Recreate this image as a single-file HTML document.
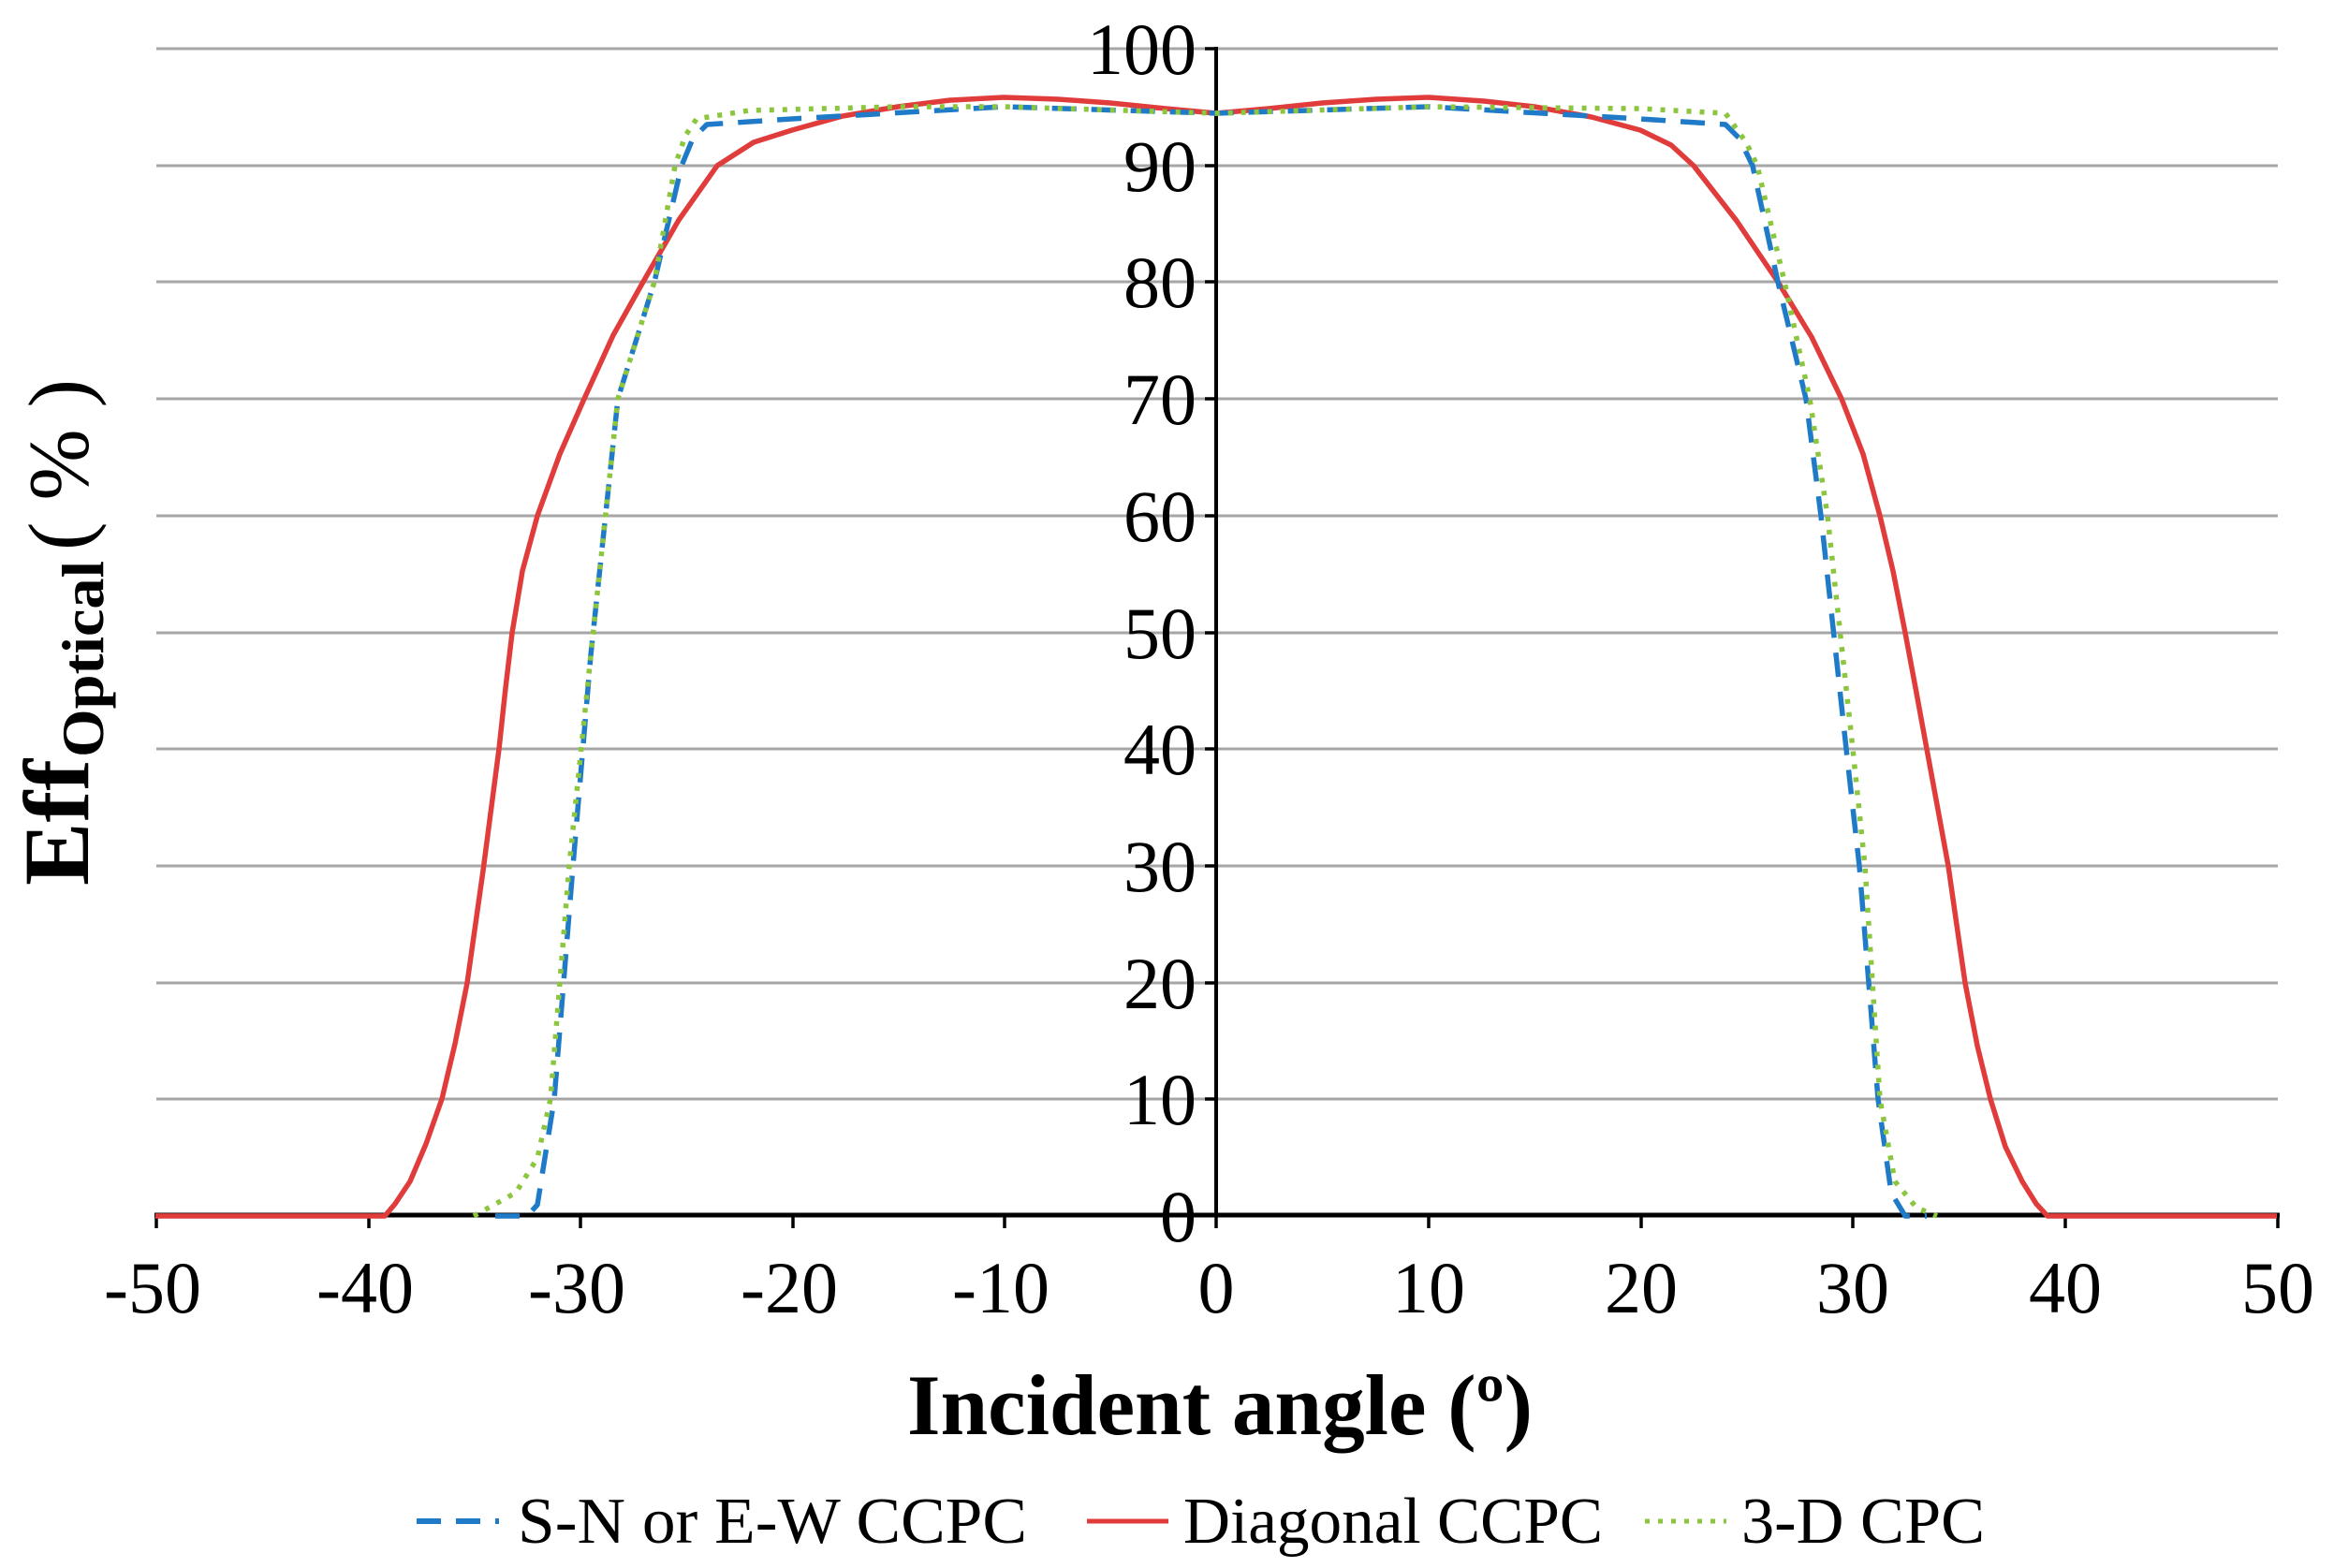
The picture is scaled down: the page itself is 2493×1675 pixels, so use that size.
<!DOCTYPE html>
<html><head><meta charset="utf-8"><style>html,body{margin:0;padding:0;background:#fff}svg{display:block}</style></head>
<body>
<svg width="2493" height="1675" viewBox="0 0 2493 1675" xmlns="http://www.w3.org/2000/svg" font-family="'Liberation Serif', serif">
<rect width="2493" height="1675" fill="#fff"/>
<g stroke="#a6a6a6" stroke-width="3">
<line x1="167" y1="52" x2="2433" y2="52"/>
<line x1="167" y1="177" x2="2433" y2="177"/>
<line x1="167" y1="301" x2="2433" y2="301"/>
<line x1="167" y1="426" x2="2433" y2="426"/>
<line x1="167" y1="551" x2="2433" y2="551"/>
<line x1="167" y1="676" x2="2433" y2="676"/>
<line x1="167" y1="800" x2="2433" y2="800"/>
<line x1="167" y1="925" x2="2433" y2="925"/>
<line x1="167" y1="1050" x2="2433" y2="1050"/>
<line x1="167" y1="1174" x2="2433" y2="1174"/>
</g>
<g stroke="#000" stroke-width="4">
<line x1="1299" y1="50" x2="1299" y2="1300"/>
<line x1="165" y1="1298" x2="2435" y2="1298" stroke-width="5"/>
<g stroke-width="3.5">
<line x1="1287" y1="52" x2="1299" y2="52"/><line x1="1287" y1="177" x2="1299" y2="177"/><line x1="1287" y1="301" x2="1299" y2="301"/><line x1="1287" y1="426" x2="1299" y2="426"/><line x1="1287" y1="551" x2="1299" y2="551"/><line x1="1287" y1="676" x2="1299" y2="676"/><line x1="1287" y1="800" x2="1299" y2="800"/><line x1="1287" y1="925" x2="1299" y2="925"/><line x1="1287" y1="1050" x2="1299" y2="1050"/><line x1="1287" y1="1174" x2="1299" y2="1174"/>
<line x1="167" y1="1298" x2="167" y2="1312"/><line x1="394" y1="1298" x2="394" y2="1312"/><line x1="620" y1="1298" x2="620" y2="1312"/><line x1="847" y1="1298" x2="847" y2="1312"/><line x1="1073" y1="1298" x2="1073" y2="1312"/><line x1="1299" y1="1298" x2="1299" y2="1312"/><line x1="1526" y1="1298" x2="1526" y2="1312"/><line x1="1753" y1="1298" x2="1753" y2="1312"/><line x1="1979" y1="1298" x2="1979" y2="1312"/><line x1="2206" y1="1298" x2="2206" y2="1312"/><line x1="2433" y1="1298" x2="2433" y2="1312"/>
</g></g>
<g font-size="78" text-anchor="end" fill="#000">
<text x="1278" y="79">100</text><text x="1278" y="204">90</text><text x="1278" y="328">80</text><text x="1278" y="453">70</text><text x="1278" y="578">60</text><text x="1278" y="703">50</text><text x="1278" y="827">40</text><text x="1278" y="952">30</text><text x="1278" y="1077">20</text><text x="1278" y="1201">10</text><text x="1278" y="1326">0</text>
</g>
<g font-size="78" text-anchor="middle" fill="#000">
<text x="163" y="1402">-50</text><text x="390" y="1402">-40</text><text x="616" y="1402">-30</text><text x="843" y="1402">-20</text><text x="1069" y="1402">-10</text><text x="1299" y="1402">0</text><text x="1526" y="1402">10</text><text x="1753" y="1402">20</text><text x="1979" y="1402">30</text><text x="2206" y="1402">40</text><text x="2433" y="1402">50</text>
</g>
<text x="969" y="1532" font-size="92" font-weight="bold" textLength="668" lengthAdjust="spacingAndGlyphs">Incident angle (º)</text>
<g transform="translate(94,946) rotate(-90)">
<text x="0" y="0" font-size="100" font-weight="bold" textLength="135" lengthAdjust="spacingAndGlyphs">Eff</text>
<text x="137" y="16" font-size="64" font-weight="bold" textLength="210" lengthAdjust="spacingAndGlyphs">Optical</text>
<text x="358" y="0" font-size="92" textLength="183" lengthAdjust="spacingAndGlyphs">( % )</text>
</g>
<g fill="none" stroke-linejoin="round" stroke-linecap="butt">
<polyline stroke="#e03c3c" stroke-width="5.5" points="166,1299 411,1299 422,1286 438,1262 455,1222 472,1174 486,1115 499,1050 516,930 533,800 540,735 547,676 558,610 574,551 598,485 624,426 655,358 687,301 725,235 766,177 805,152 846,139 900,124 959,114 1015,107 1072,104 1130,106 1186,110 1245,116 1299,121 1355,116 1412,110 1470,106 1526,104 1585,108 1639,114 1700,125 1752,139 1785,155 1809,177 1855,236 1899,301 1935,360 1967,426 1990,485 2008,551 2022,610 2035,676 2047,740 2058,800 2070,865 2081,925 2090,988 2099,1050 2112,1117 2126,1174 2142,1225 2160,1262 2175,1286 2187,1299 2432,1299"/>
<polyline stroke="#1f7ac8" stroke-width="5.5" stroke-dasharray="26,16" points="529,1299 563,1299 574,1287 592,1174 612,925 631,700 660,426 699,301 728,177 740,148 755,133 846,127 1072,114 1299,121 1526,114 1752,127 1843,133 1858,148 1872,177 1899,301 1929,426 1945,551 1972,800 1986,925 2006,1174 2020,1274 2035,1299 2058,1299"/>
<polyline stroke="#8cc63f" stroke-width="5.5" stroke-dasharray="5,9" points="506,1299 551,1274 574,1237 588,1174 608,925 631,700 660,426 699,301 721,177 732,145 744,127 800,118 959,114 1072,114 1299,121 1526,114 1752,116 1843,121 1865,152 1877,177 1906,301 1933,426 1952,551 1979,800 1992,925 2008,1174 2024,1262 2047,1290 2069,1299"/>
</g>
<g font-size="70" fill="#000">
<line x1="445" y1="1625" x2="533" y2="1625" stroke="#1f7ac8" stroke-width="6" stroke-dasharray="26,16"/>
<text x="553" y="1648" textLength="544" lengthAdjust="spacingAndGlyphs">S-N or E-W  CCPC</text>
<line x1="1161" y1="1625" x2="1248" y2="1625" stroke="#e03c3c" stroke-width="5"/>
<text x="1264" y="1648" textLength="448" lengthAdjust="spacingAndGlyphs">Diagonal CCPC</text>
<line x1="1757" y1="1625" x2="1844" y2="1625" stroke="#8cc63f" stroke-width="5" stroke-dasharray="5,9"/>
<text x="1860" y="1648" textLength="260" lengthAdjust="spacingAndGlyphs">3-D CPC</text>
</g>
</svg>
</body></html>
